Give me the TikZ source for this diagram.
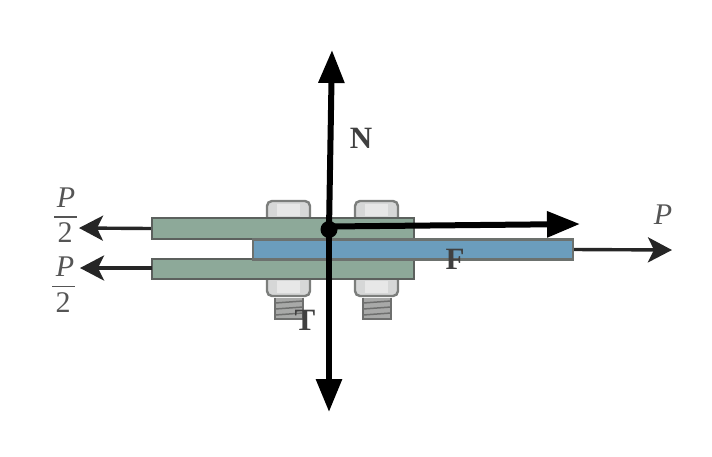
\documentclass[tikz,border=0pt]{standalone}
\usepackage{fontspec}
\setmainfont{Liberation Serif}
\usetikzlibrary{arrows.meta}
\definecolor{plategreen}{HTML}{8DA999}
\definecolor{plateblue}{HTML}{6B9DBD}
\definecolor{edgegrey}{HTML}{5C615E}
\definecolor{boltfill}{HTML}{D6D7D7}
\definecolor{boltedge}{HTML}{7C7E7C}
\definecolor{threadfill}{HTML}{A8A9A8}
\definecolor{threaddark}{HTML}{6E6F6E}
\definecolor{labelgrey}{HTML}{555555}
\tikzset{
  x=1pt,y=-1pt,
  plate/.style={draw=edgegrey,line width=2.2pt},
  bolthead/.style={draw=boltedge,fill=boltfill,line width=2.4pt,rounded corners=5pt},
  thread/.style={fill=threadfill},
  threadline/.style={draw=threaddark,line width=1.5pt},
  force/.style={draw=black,line width=6pt,-{Triangle[length=33pt,width=25pt]}},
  thinforce/.style={draw=black!85,line width=3.4pt,-{Stealth[length=24pt,width=25pt,inset=6pt]}},
  blabel/.style={font=\fontsize{31}{31}\selectfont\bfseries,text=black!75,inner sep=0pt},
  plabel/.style={font=\fontsize{30}{30}\selectfont\itshape,text=labelgrey,inner sep=0pt},
  pfrac/.style={text=labelgrey,inner sep=0pt,font=\fontsize{30}{30}\selectfont},
  fracbar/.style={draw=labelgrey,line width=1.8pt},
}
\begin{document}
\begin{tikzpicture}
\useasboundingbox (0,0) rectangle (712,456);
% bolts
\path[bolthead] (267,222) -- (267,201) -- (310,201) -- (310,222) -- cycle;
\path[bolthead] (355,222) -- (355,201) -- (398,201) -- (398,222) -- cycle;
\path[bolthead] (267,275) -- (267,296) -- (310,296) -- (310,275) -- cycle;
\path[bolthead] (355,275) -- (355,296) -- (398,296) -- (398,275) -- cycle;
\fill[boltfill!60!white] (277,204) rectangle (300,216);
\fill[boltfill!60!white] (365,204) rectangle (388,216);
\fill[boltfill!60!white] (277,281) rectangle (300,293);
\fill[boltfill!60!white] (365,281) rectangle (388,293);
\foreach \tx in {275,363}{
  \fill[thread] (\tx,297.5) rectangle (\tx+28,319.5);
  \foreach \ty in {301,307,313}
    \draw[threadline] (\tx,\ty+2) -- (\tx+28,\ty);
  \draw[threaddark,line width=1.5pt] (\tx,297.5) -- (\tx,319.5) (\tx+28,297.5) -- (\tx+28,319.5) (\tx,319) -- (\tx+28,319);
}
% plates
\node[plate,fill=plategreen,minimum width=262pt,minimum height=20.5pt,inner sep=0pt] (topplate) at (283,228.5) {};
\node[plate,fill=plategreen,minimum width=262pt,minimum height=20pt,inner sep=0pt] (botplate) at (283,269) {};
\node[plate,fill=plateblue,draw=edgegrey!90,minimum width=320pt,minimum height=20pt,inner sep=0pt] (midplate) at (413,249.5) {};
% free ends
\coordinate (hub) at (329,229.5);
\coordinate (fstart) at (329,226.5);
\coordinate (ntip) at (332,50);
\coordinate (ttip) at (329,412);
\coordinate (ftip) at (580,224);
\coordinate (pend) at (672,250);
\coordinate (ptop) at (79,228);
\coordinate (pbot) at (80,268);
\coordinate (pbotstart) at (152,268);
% thin forces
\draw[thinforce] (topplate.west) -- (ptop);
\draw[thinforce] (pbotstart) -- (pbot);
\draw[thinforce] (midplate.east) -- (pend);
% main forces
\draw[force] (hub) -- (ntip);
\draw[force] (hub) -- (ttip);
\draw[force] (fstart) -- (ftip);
\node[circle,fill=black,minimum size=17pt,inner sep=0pt] (dot) at (hub) {};
% labels
\node[blabel] (n) at (361,138) {N};
\node[blabel] (t) at (305,320) {T};
\node[blabel] (f) at (455,259) {F};
\node[plabel] (p) at (663,215) {P};
\node[plabel] (p1) at (66,198) {P};
\draw[fracbar] (54,217) -- (77,217);
\node[pfrac] (two1) at (65,233) {2};
\node[plabel] (p2) at (65,267) {P};
\draw[fracbar] (52,286.5) -- (75,286.5);
\node[pfrac] (two2) at (63,303) {2};
\end{tikzpicture}
\end{document}
